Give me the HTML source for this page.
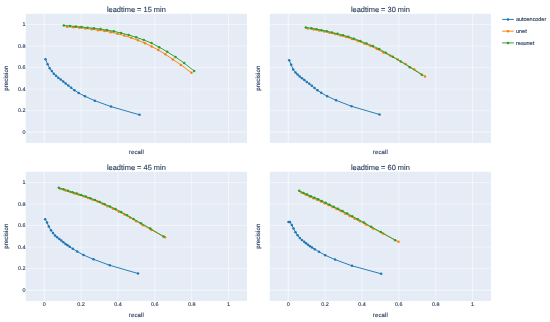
<!DOCTYPE html>
<html><head><meta charset="utf-8"><title>precision-recall</title>
<style>html,body{margin:0;padding:0;background:#fff}svg{display:block}text{text-rendering:geometricPrecision;font-family:"Liberation Sans",sans-serif;fill:#2a3f5f;stroke:#2a3f5f;stroke-width:0.13px;paint-order:stroke fill}</style></head><body>
<svg width="550" height="322" viewBox="0 0 550 322">
<rect width="550" height="322" fill="#fff"/>
<g>
<rect x="25.80" y="13.80" width="221.20" height="129.10" fill="#e5ecf6"/>
<line x1="44.23" y1="13.80" x2="44.23" y2="142.90" stroke="#fff" stroke-width="0.70"/>
<line x1="81.09" y1="13.80" x2="81.09" y2="142.90" stroke="#fff" stroke-width="0.50"/>
<line x1="117.95" y1="13.80" x2="117.95" y2="142.90" stroke="#fff" stroke-width="0.50"/>
<line x1="154.81" y1="13.80" x2="154.81" y2="142.90" stroke="#fff" stroke-width="0.50"/>
<line x1="191.67" y1="13.80" x2="191.67" y2="142.90" stroke="#fff" stroke-width="0.50"/>
<line x1="228.53" y1="13.80" x2="228.53" y2="142.90" stroke="#fff" stroke-width="0.50"/>
<line x1="25.80" y1="132.14" x2="247.00" y2="132.14" stroke="#fff" stroke-width="0.70"/>
<line x1="25.80" y1="110.62" x2="247.00" y2="110.62" stroke="#fff" stroke-width="0.50"/>
<line x1="25.80" y1="89.10" x2="247.00" y2="89.10" stroke="#fff" stroke-width="0.50"/>
<line x1="25.80" y1="67.58" x2="247.00" y2="67.58" stroke="#fff" stroke-width="0.50"/>
<line x1="25.80" y1="46.06" x2="247.00" y2="46.06" stroke="#fff" stroke-width="0.50"/>
<line x1="25.80" y1="24.54" x2="247.00" y2="24.54" stroke="#fff" stroke-width="0.50"/>
<polyline fill="none" stroke="#1f77b4" stroke-width="0.95" stroke-linejoin="round" points="45.5,59.2 47.6,64.2 49.7,68.2 51.8,71.0 53.8,73.7 56.0,75.8 58.2,77.8 60.7,79.6 63.2,81.6 65.7,83.6 68.3,85.6 71.1,87.8 74.5,90.2 78.7,93.0 85.0,96.3 94.8,100.7 111.0,106.6 139.5,114.8"/>
<g fill="#1f77b4"><circle cx="45.5" cy="59.2" r="1.25"/><circle cx="47.6" cy="64.2" r="1.25"/><circle cx="49.7" cy="68.2" r="1.25"/><circle cx="51.8" cy="71.0" r="1.25"/><circle cx="53.8" cy="73.7" r="1.25"/><circle cx="56.0" cy="75.8" r="1.25"/><circle cx="58.2" cy="77.8" r="1.25"/><circle cx="60.7" cy="79.6" r="1.25"/><circle cx="63.2" cy="81.6" r="1.25"/><circle cx="65.7" cy="83.6" r="1.25"/><circle cx="68.3" cy="85.6" r="1.25"/><circle cx="71.1" cy="87.8" r="1.25"/><circle cx="74.5" cy="90.2" r="1.25"/><circle cx="78.7" cy="93.0" r="1.25"/><circle cx="85.0" cy="96.3" r="1.25"/><circle cx="94.8" cy="100.7" r="1.25"/><circle cx="111.0" cy="106.6" r="1.25"/><circle cx="139.5" cy="114.8" r="1.25"/></g>
<polyline fill="none" stroke="#ff7f0e" stroke-width="0.95" stroke-linejoin="round" points="67.0,26.7 73.5,27.2 79.5,27.8 85.5,28.4 91.8,29.2 98.0,30.2 104.5,31.0 110.8,32.2 117.5,33.7 124.3,35.6 131.2,37.8 138.0,40.3 145.0,43.2 151.7,46.5 158.3,50.0 165.3,54.3 172.9,59.4 180.9,64.9 191.5,72.8"/>
<g fill="#ff7f0e"><circle cx="67.0" cy="26.7" r="1.25"/><circle cx="73.5" cy="27.2" r="1.25"/><circle cx="79.5" cy="27.8" r="1.25"/><circle cx="85.5" cy="28.4" r="1.25"/><circle cx="91.8" cy="29.2" r="1.25"/><circle cx="98.0" cy="30.2" r="1.25"/><circle cx="104.5" cy="31.0" r="1.25"/><circle cx="110.8" cy="32.2" r="1.25"/><circle cx="117.5" cy="33.7" r="1.25"/><circle cx="124.3" cy="35.6" r="1.25"/><circle cx="131.2" cy="37.8" r="1.25"/><circle cx="138.0" cy="40.3" r="1.25"/><circle cx="145.0" cy="43.2" r="1.25"/><circle cx="151.7" cy="46.5" r="1.25"/><circle cx="158.3" cy="50.0" r="1.25"/><circle cx="165.3" cy="54.3" r="1.25"/><circle cx="172.9" cy="59.4" r="1.25"/><circle cx="180.9" cy="64.9" r="1.25"/><circle cx="191.5" cy="72.8" r="1.25"/></g>
<polyline fill="none" stroke="#2ca02c" stroke-width="0.95" stroke-linejoin="round" points="63.8,25.5 70.0,26.0 75.8,26.5 81.5,27.0 87.5,27.7 94.0,28.3 100.5,29.1 106.9,30.1 113.8,31.3 121.0,33.0 128.7,35.0 136.2,37.3 143.8,40.0 151.5,43.1 159.2,47.2 167.2,51.8 175.5,57.0 184.2,63.1 194.2,71.0"/>
<g fill="#2ca02c"><circle cx="63.8" cy="25.5" r="1.25"/><circle cx="70.0" cy="26.0" r="1.25"/><circle cx="75.8" cy="26.5" r="1.25"/><circle cx="81.5" cy="27.0" r="1.25"/><circle cx="87.5" cy="27.7" r="1.25"/><circle cx="94.0" cy="28.3" r="1.25"/><circle cx="100.5" cy="29.1" r="1.25"/><circle cx="106.9" cy="30.1" r="1.25"/><circle cx="113.8" cy="31.3" r="1.25"/><circle cx="121.0" cy="33.0" r="1.25"/><circle cx="128.7" cy="35.0" r="1.25"/><circle cx="136.2" cy="37.3" r="1.25"/><circle cx="143.8" cy="40.0" r="1.25"/><circle cx="151.5" cy="43.1" r="1.25"/><circle cx="159.2" cy="47.2" r="1.25"/><circle cx="167.2" cy="51.8" r="1.25"/><circle cx="175.5" cy="57.0" r="1.25"/><circle cx="184.2" cy="63.1" r="1.25"/><circle cx="194.2" cy="71.0" r="1.25"/></g>
<text x="136.40" y="11.70" font-size="7.45" text-anchor="middle">leadtime = 15 min</text>
<text x="25.50" y="133.99" font-size="5.40" text-anchor="end">0</text>
<text x="25.50" y="112.47" font-size="5.40" text-anchor="end">0.2</text>
<text x="25.50" y="90.95" font-size="5.40" text-anchor="end">0.4</text>
<text x="25.50" y="69.43" font-size="5.40" text-anchor="end">0.6</text>
<text x="25.50" y="47.91" font-size="5.40" text-anchor="end">0.8</text>
<text x="25.50" y="26.39" font-size="5.40" text-anchor="end">1</text>
<text x="136.40" y="153.70" font-size="6.00" letter-spacing="0.13" text-anchor="middle">recall</text>
<text transform="translate(7.80,78.15) rotate(-90)" font-size="6.00" letter-spacing="0.13" text-anchor="middle">precision</text>
</g>
<g>
<rect x="269.80" y="13.80" width="221.20" height="129.10" fill="#e5ecf6"/>
<line x1="288.23" y1="13.80" x2="288.23" y2="142.90" stroke="#fff" stroke-width="0.70"/>
<line x1="325.09" y1="13.80" x2="325.09" y2="142.90" stroke="#fff" stroke-width="0.50"/>
<line x1="361.95" y1="13.80" x2="361.95" y2="142.90" stroke="#fff" stroke-width="0.50"/>
<line x1="398.81" y1="13.80" x2="398.81" y2="142.90" stroke="#fff" stroke-width="0.50"/>
<line x1="435.67" y1="13.80" x2="435.67" y2="142.90" stroke="#fff" stroke-width="0.50"/>
<line x1="472.53" y1="13.80" x2="472.53" y2="142.90" stroke="#fff" stroke-width="0.50"/>
<line x1="269.80" y1="132.14" x2="491.00" y2="132.14" stroke="#fff" stroke-width="0.70"/>
<line x1="269.80" y1="110.62" x2="491.00" y2="110.62" stroke="#fff" stroke-width="0.50"/>
<line x1="269.80" y1="89.10" x2="491.00" y2="89.10" stroke="#fff" stroke-width="0.50"/>
<line x1="269.80" y1="67.58" x2="491.00" y2="67.58" stroke="#fff" stroke-width="0.50"/>
<line x1="269.80" y1="46.06" x2="491.00" y2="46.06" stroke="#fff" stroke-width="0.50"/>
<line x1="269.80" y1="24.54" x2="491.00" y2="24.54" stroke="#fff" stroke-width="0.50"/>
<polyline fill="none" stroke="#1f77b4" stroke-width="0.95" stroke-linejoin="round" points="289.2,60.2 291.2,64.8 293.2,69.5 295.5,72.5 297.5,74.5 299.7,76.5 302.0,78.3 304.3,80.0 306.8,81.9 309.3,83.8 311.8,85.8 314.5,88.0 317.5,90.2 321.2,92.8 327.2,96.2 336.1,100.3 351.6,106.3 379.5,114.5"/>
<g fill="#1f77b4"><circle cx="289.2" cy="60.2" r="1.25"/><circle cx="291.2" cy="64.8" r="1.25"/><circle cx="293.2" cy="69.5" r="1.25"/><circle cx="295.5" cy="72.5" r="1.25"/><circle cx="297.5" cy="74.5" r="1.25"/><circle cx="299.7" cy="76.5" r="1.25"/><circle cx="302.0" cy="78.3" r="1.25"/><circle cx="304.3" cy="80.0" r="1.25"/><circle cx="306.8" cy="81.9" r="1.25"/><circle cx="309.3" cy="83.8" r="1.25"/><circle cx="311.8" cy="85.8" r="1.25"/><circle cx="314.5" cy="88.0" r="1.25"/><circle cx="317.5" cy="90.2" r="1.25"/><circle cx="321.2" cy="92.8" r="1.25"/><circle cx="327.2" cy="96.2" r="1.25"/><circle cx="336.1" cy="100.3" r="1.25"/><circle cx="351.6" cy="106.3" r="1.25"/><circle cx="379.5" cy="114.5" r="1.25"/></g>
<polyline fill="none" stroke="#ff7f0e" stroke-width="0.95" stroke-linejoin="round" points="307.7,28.4 313.7,29.4 319.0,30.4 324.2,31.5 329.5,32.7 335.0,34.1 340.5,35.5 346.1,37.1 352.0,39.0 358.0,41.1 364.3,43.6 370.5,46.1 376.8,49.0 383.2,52.4 390.0,55.5 397.8,59.5 405.5,64.0 414.2,69.3 425.0,76.5"/>
<g fill="#ff7f0e"><circle cx="307.7" cy="28.4" r="1.25"/><circle cx="313.7" cy="29.4" r="1.25"/><circle cx="319.0" cy="30.4" r="1.25"/><circle cx="324.2" cy="31.5" r="1.25"/><circle cx="329.5" cy="32.7" r="1.25"/><circle cx="335.0" cy="34.1" r="1.25"/><circle cx="340.5" cy="35.5" r="1.25"/><circle cx="346.1" cy="37.1" r="1.25"/><circle cx="352.0" cy="39.0" r="1.25"/><circle cx="358.0" cy="41.1" r="1.25"/><circle cx="364.3" cy="43.6" r="1.25"/><circle cx="370.5" cy="46.1" r="1.25"/><circle cx="376.8" cy="49.0" r="1.25"/><circle cx="383.2" cy="52.4" r="1.25"/><circle cx="390.0" cy="55.5" r="1.25"/><circle cx="397.8" cy="59.5" r="1.25"/><circle cx="405.5" cy="64.0" r="1.25"/><circle cx="414.2" cy="69.3" r="1.25"/><circle cx="425.0" cy="76.5" r="1.25"/></g>
<polyline fill="none" stroke="#2ca02c" stroke-width="0.95" stroke-linejoin="round" points="305.8,27.5 311.5,28.3 316.5,29.2 321.5,30.2 326.8,31.2 332.0,32.5 337.5,33.8 343.0,35.2 348.4,36.8 354.0,38.7 360.3,41.0 366.5,43.5 372.8,46.0 379.2,49.0 385.8,52.7 392.7,56.8 400.8,61.5 409.8,67.2 421.8,74.8"/>
<g fill="#2ca02c"><circle cx="305.8" cy="27.5" r="1.25"/><circle cx="311.5" cy="28.3" r="1.25"/><circle cx="316.5" cy="29.2" r="1.25"/><circle cx="321.5" cy="30.2" r="1.25"/><circle cx="326.8" cy="31.2" r="1.25"/><circle cx="332.0" cy="32.5" r="1.25"/><circle cx="337.5" cy="33.8" r="1.25"/><circle cx="343.0" cy="35.2" r="1.25"/><circle cx="348.4" cy="36.8" r="1.25"/><circle cx="354.0" cy="38.7" r="1.25"/><circle cx="360.3" cy="41.0" r="1.25"/><circle cx="366.5" cy="43.5" r="1.25"/><circle cx="372.8" cy="46.0" r="1.25"/><circle cx="379.2" cy="49.0" r="1.25"/><circle cx="385.8" cy="52.7" r="1.25"/><circle cx="392.7" cy="56.8" r="1.25"/><circle cx="400.8" cy="61.5" r="1.25"/><circle cx="409.8" cy="67.2" r="1.25"/><circle cx="421.8" cy="74.8" r="1.25"/></g>
<text x="380.40" y="11.70" font-size="7.45" text-anchor="middle">leadtime = 30 min</text>
<text x="380.40" y="153.70" font-size="6.00" letter-spacing="0.13" text-anchor="middle">recall</text>
<text transform="translate(259.90,78.15) rotate(-90)" font-size="6.00" letter-spacing="0.13" text-anchor="middle">precision</text>
</g>
<g>
<rect x="25.80" y="171.80" width="221.20" height="129.10" fill="#e5ecf6"/>
<line x1="44.23" y1="171.80" x2="44.23" y2="300.90" stroke="#fff" stroke-width="0.70"/>
<line x1="81.09" y1="171.80" x2="81.09" y2="300.90" stroke="#fff" stroke-width="0.50"/>
<line x1="117.95" y1="171.80" x2="117.95" y2="300.90" stroke="#fff" stroke-width="0.50"/>
<line x1="154.81" y1="171.80" x2="154.81" y2="300.90" stroke="#fff" stroke-width="0.50"/>
<line x1="191.67" y1="171.80" x2="191.67" y2="300.90" stroke="#fff" stroke-width="0.50"/>
<line x1="228.53" y1="171.80" x2="228.53" y2="300.90" stroke="#fff" stroke-width="0.50"/>
<line x1="25.80" y1="290.14" x2="247.00" y2="290.14" stroke="#fff" stroke-width="0.70"/>
<line x1="25.80" y1="268.62" x2="247.00" y2="268.62" stroke="#fff" stroke-width="0.50"/>
<line x1="25.80" y1="247.10" x2="247.00" y2="247.10" stroke="#fff" stroke-width="0.50"/>
<line x1="25.80" y1="225.58" x2="247.00" y2="225.58" stroke="#fff" stroke-width="0.50"/>
<line x1="25.80" y1="204.06" x2="247.00" y2="204.06" stroke="#fff" stroke-width="0.50"/>
<line x1="25.80" y1="182.54" x2="247.00" y2="182.54" stroke="#fff" stroke-width="0.50"/>
<polyline fill="none" stroke="#1f77b4" stroke-width="0.95" stroke-linejoin="round" points="45.2,219.2 47.0,222.5 48.8,226.5 51.0,230.3 53.0,233.1 55.0,235.5 57.1,237.3 59.3,239.0 61.3,240.6 63.4,242.3 65.5,244.0 67.5,245.3 69.7,246.8 72.8,248.8 77.2,251.5 83.5,255.0 93.5,259.3 109.8,265.3 138.0,273.5"/>
<g fill="#1f77b4"><circle cx="45.2" cy="219.2" r="1.25"/><circle cx="47.0" cy="222.5" r="1.25"/><circle cx="48.8" cy="226.5" r="1.25"/><circle cx="51.0" cy="230.3" r="1.25"/><circle cx="53.0" cy="233.1" r="1.25"/><circle cx="55.0" cy="235.5" r="1.25"/><circle cx="57.1" cy="237.3" r="1.25"/><circle cx="59.3" cy="239.0" r="1.25"/><circle cx="61.3" cy="240.6" r="1.25"/><circle cx="63.4" cy="242.3" r="1.25"/><circle cx="65.5" cy="244.0" r="1.25"/><circle cx="67.5" cy="245.3" r="1.25"/><circle cx="69.7" cy="246.8" r="1.25"/><circle cx="72.8" cy="248.8" r="1.25"/><circle cx="77.2" cy="251.5" r="1.25"/><circle cx="83.5" cy="255.0" r="1.25"/><circle cx="93.5" cy="259.3" r="1.25"/><circle cx="109.8" cy="265.3" r="1.25"/><circle cx="138.0" cy="273.5" r="1.25"/></g>
<polyline fill="none" stroke="#ff7f0e" stroke-width="0.95" stroke-linejoin="round" points="60.5,189.0 65.5,190.5 70.0,192.0 74.5,193.4 79.0,194.8 83.5,196.3 88.0,198.0 92.7,199.7 97.5,201.6 102.5,203.8 107.5,206.2 113.0,208.8 118.8,211.8 124.5,214.5 130.0,217.5 136.2,221.2 143.0,225.2 151.5,230.0 165.0,237.2"/>
<g fill="#ff7f0e"><circle cx="60.5" cy="189.0" r="1.25"/><circle cx="65.5" cy="190.5" r="1.25"/><circle cx="70.0" cy="192.0" r="1.25"/><circle cx="74.5" cy="193.4" r="1.25"/><circle cx="79.0" cy="194.8" r="1.25"/><circle cx="83.5" cy="196.3" r="1.25"/><circle cx="88.0" cy="198.0" r="1.25"/><circle cx="92.7" cy="199.7" r="1.25"/><circle cx="97.5" cy="201.6" r="1.25"/><circle cx="102.5" cy="203.8" r="1.25"/><circle cx="107.5" cy="206.2" r="1.25"/><circle cx="113.0" cy="208.8" r="1.25"/><circle cx="118.8" cy="211.8" r="1.25"/><circle cx="124.5" cy="214.5" r="1.25"/><circle cx="130.0" cy="217.5" r="1.25"/><circle cx="136.2" cy="221.2" r="1.25"/><circle cx="143.0" cy="225.2" r="1.25"/><circle cx="151.5" cy="230.0" r="1.25"/><circle cx="165.0" cy="237.2" r="1.25"/></g>
<polyline fill="none" stroke="#2ca02c" stroke-width="0.95" stroke-linejoin="round" points="58.8,187.8 63.5,189.2 68.0,190.7 72.5,192.2 76.8,193.5 81.2,195.0 85.7,196.5 90.3,198.2 95.0,200.0 99.8,202.0 104.7,204.2 110.0,206.5 115.5,209.0 121.2,212.0 127.1,215.3 133.5,219.0 141.0,223.2 150.3,228.5 163.5,236.5"/>
<g fill="#2ca02c"><circle cx="58.8" cy="187.8" r="1.25"/><circle cx="63.5" cy="189.2" r="1.25"/><circle cx="68.0" cy="190.7" r="1.25"/><circle cx="72.5" cy="192.2" r="1.25"/><circle cx="76.8" cy="193.5" r="1.25"/><circle cx="81.2" cy="195.0" r="1.25"/><circle cx="85.7" cy="196.5" r="1.25"/><circle cx="90.3" cy="198.2" r="1.25"/><circle cx="95.0" cy="200.0" r="1.25"/><circle cx="99.8" cy="202.0" r="1.25"/><circle cx="104.7" cy="204.2" r="1.25"/><circle cx="110.0" cy="206.5" r="1.25"/><circle cx="115.5" cy="209.0" r="1.25"/><circle cx="121.2" cy="212.0" r="1.25"/><circle cx="127.1" cy="215.3" r="1.25"/><circle cx="133.5" cy="219.0" r="1.25"/><circle cx="141.0" cy="223.2" r="1.25"/><circle cx="150.3" cy="228.5" r="1.25"/><circle cx="163.5" cy="236.5" r="1.25"/></g>
<text x="136.40" y="169.70" font-size="7.45" text-anchor="middle">leadtime = 45 min</text>
<text x="25.50" y="291.99" font-size="5.40" text-anchor="end">0</text>
<text x="25.50" y="270.47" font-size="5.40" text-anchor="end">0.2</text>
<text x="25.50" y="248.95" font-size="5.40" text-anchor="end">0.4</text>
<text x="25.50" y="227.43" font-size="5.40" text-anchor="end">0.6</text>
<text x="25.50" y="205.91" font-size="5.40" text-anchor="end">0.8</text>
<text x="25.50" y="184.39" font-size="5.40" text-anchor="end">1</text>
<text x="44.23" y="305.70" font-size="5.40" text-anchor="middle">0</text>
<text x="81.09" y="305.70" font-size="5.40" text-anchor="middle">0.2</text>
<text x="117.95" y="305.70" font-size="5.40" text-anchor="middle">0.4</text>
<text x="154.81" y="305.70" font-size="5.40" text-anchor="middle">0.6</text>
<text x="191.67" y="305.70" font-size="5.40" text-anchor="middle">0.8</text>
<text x="228.53" y="305.70" font-size="5.40" text-anchor="middle">1</text>
<text x="136.40" y="317.30" font-size="6.00" letter-spacing="0.13" text-anchor="middle">recall</text>
<text transform="translate(7.80,236.15) rotate(-90)" font-size="6.00" letter-spacing="0.13" text-anchor="middle">precision</text>
</g>
<g>
<rect x="269.80" y="171.80" width="221.20" height="129.10" fill="#e5ecf6"/>
<line x1="288.23" y1="171.80" x2="288.23" y2="300.90" stroke="#fff" stroke-width="0.70"/>
<line x1="325.09" y1="171.80" x2="325.09" y2="300.90" stroke="#fff" stroke-width="0.50"/>
<line x1="361.95" y1="171.80" x2="361.95" y2="300.90" stroke="#fff" stroke-width="0.50"/>
<line x1="398.81" y1="171.80" x2="398.81" y2="300.90" stroke="#fff" stroke-width="0.50"/>
<line x1="435.67" y1="171.80" x2="435.67" y2="300.90" stroke="#fff" stroke-width="0.50"/>
<line x1="472.53" y1="171.80" x2="472.53" y2="300.90" stroke="#fff" stroke-width="0.50"/>
<line x1="269.80" y1="290.14" x2="491.00" y2="290.14" stroke="#fff" stroke-width="0.70"/>
<line x1="269.80" y1="268.62" x2="491.00" y2="268.62" stroke="#fff" stroke-width="0.50"/>
<line x1="269.80" y1="247.10" x2="491.00" y2="247.10" stroke="#fff" stroke-width="0.50"/>
<line x1="269.80" y1="225.58" x2="491.00" y2="225.58" stroke="#fff" stroke-width="0.50"/>
<line x1="269.80" y1="204.06" x2="491.00" y2="204.06" stroke="#fff" stroke-width="0.50"/>
<line x1="269.80" y1="182.54" x2="491.00" y2="182.54" stroke="#fff" stroke-width="0.50"/>
<polyline fill="none" stroke="#1f77b4" stroke-width="0.95" stroke-linejoin="round" points="288.5,222.0 290.0,222.0 291.8,225.0 293.5,228.5 295.5,232.2 297.6,235.3 299.8,238.0 301.9,240.0 304.1,241.7 306.0,243.3 308.0,244.8 310.0,246.2 312.0,247.5 314.8,249.2 319.0,251.8 325.2,255.2 335.0,259.6 352.0,265.8 381.2,273.8"/>
<g fill="#1f77b4"><circle cx="288.5" cy="222.0" r="1.25"/><circle cx="290.0" cy="222.0" r="1.25"/><circle cx="291.8" cy="225.0" r="1.25"/><circle cx="293.5" cy="228.5" r="1.25"/><circle cx="295.5" cy="232.2" r="1.25"/><circle cx="297.6" cy="235.3" r="1.25"/><circle cx="299.8" cy="238.0" r="1.25"/><circle cx="301.9" cy="240.0" r="1.25"/><circle cx="304.1" cy="241.7" r="1.25"/><circle cx="306.0" cy="243.3" r="1.25"/><circle cx="308.0" cy="244.8" r="1.25"/><circle cx="310.0" cy="246.2" r="1.25"/><circle cx="312.0" cy="247.5" r="1.25"/><circle cx="314.8" cy="249.2" r="1.25"/><circle cx="319.0" cy="251.8" r="1.25"/><circle cx="325.2" cy="255.2" r="1.25"/><circle cx="335.0" cy="259.6" r="1.25"/><circle cx="352.0" cy="265.8" r="1.25"/><circle cx="381.2" cy="273.8" r="1.25"/></g>
<polyline fill="none" stroke="#ff7f0e" stroke-width="0.95" stroke-linejoin="round" points="301.3,192.6 305.5,194.6 309.5,196.5 313.3,198.2 317.1,199.8 320.9,201.5 324.7,203.3 328.5,205.1 332.5,207.0 336.5,209.0 340.7,211.1 345.0,213.4 349.7,216.0 354.7,218.7 360.0,221.3 365.8,224.5 373.0,228.5 383.0,233.5 398.5,241.8"/>
<g fill="#ff7f0e"><circle cx="301.3" cy="192.6" r="1.25"/><circle cx="305.5" cy="194.6" r="1.25"/><circle cx="309.5" cy="196.5" r="1.25"/><circle cx="313.3" cy="198.2" r="1.25"/><circle cx="317.1" cy="199.8" r="1.25"/><circle cx="320.9" cy="201.5" r="1.25"/><circle cx="324.7" cy="203.3" r="1.25"/><circle cx="328.5" cy="205.1" r="1.25"/><circle cx="332.5" cy="207.0" r="1.25"/><circle cx="336.5" cy="209.0" r="1.25"/><circle cx="340.7" cy="211.1" r="1.25"/><circle cx="345.0" cy="213.4" r="1.25"/><circle cx="349.7" cy="216.0" r="1.25"/><circle cx="354.7" cy="218.7" r="1.25"/><circle cx="360.0" cy="221.3" r="1.25"/><circle cx="365.8" cy="224.5" r="1.25"/><circle cx="373.0" cy="228.5" r="1.25"/><circle cx="383.0" cy="233.5" r="1.25"/><circle cx="398.5" cy="241.8" r="1.25"/></g>
<polyline fill="none" stroke="#2ca02c" stroke-width="0.95" stroke-linejoin="round" points="299.2,190.8 303.5,193.0 307.2,194.5 310.8,196.2 314.5,197.7 318.2,199.3 321.8,201.0 325.7,202.8 329.7,204.7 333.8,206.8 338.0,208.8 342.5,211.0 347.2,213.5 352.2,216.2 357.8,219.2 364.0,222.6 371.2,226.8 380.8,232.0 395.2,240.2"/>
<g fill="#2ca02c"><circle cx="299.2" cy="190.8" r="1.25"/><circle cx="303.5" cy="193.0" r="1.25"/><circle cx="307.2" cy="194.5" r="1.25"/><circle cx="310.8" cy="196.2" r="1.25"/><circle cx="314.5" cy="197.7" r="1.25"/><circle cx="318.2" cy="199.3" r="1.25"/><circle cx="321.8" cy="201.0" r="1.25"/><circle cx="325.7" cy="202.8" r="1.25"/><circle cx="329.7" cy="204.7" r="1.25"/><circle cx="333.8" cy="206.8" r="1.25"/><circle cx="338.0" cy="208.8" r="1.25"/><circle cx="342.5" cy="211.0" r="1.25"/><circle cx="347.2" cy="213.5" r="1.25"/><circle cx="352.2" cy="216.2" r="1.25"/><circle cx="357.8" cy="219.2" r="1.25"/><circle cx="364.0" cy="222.6" r="1.25"/><circle cx="371.2" cy="226.8" r="1.25"/><circle cx="380.8" cy="232.0" r="1.25"/><circle cx="395.2" cy="240.2" r="1.25"/></g>
<text x="380.40" y="169.70" font-size="7.45" text-anchor="middle">leadtime = 60 min</text>
<text x="288.23" y="305.70" font-size="5.40" text-anchor="middle">0</text>
<text x="325.09" y="305.70" font-size="5.40" text-anchor="middle">0.2</text>
<text x="361.95" y="305.70" font-size="5.40" text-anchor="middle">0.4</text>
<text x="398.81" y="305.70" font-size="5.40" text-anchor="middle">0.6</text>
<text x="435.67" y="305.70" font-size="5.40" text-anchor="middle">0.8</text>
<text x="472.53" y="305.70" font-size="5.40" text-anchor="middle">1</text>
<text x="380.40" y="317.30" font-size="6.00" letter-spacing="0.13" text-anchor="middle">recall</text>
<text transform="translate(259.90,236.15) rotate(-90)" font-size="6.00" letter-spacing="0.13" text-anchor="middle">precision</text>
</g>
<line x1="502.1" y1="19.40" x2="513.9" y2="19.40" stroke="#1f77b4" stroke-width="0.95"/>
<circle cx="508" cy="19.40" r="1.25" fill="#1f77b4"/>
<text x="516.1" y="21.40" font-size="5.55" letter-spacing="-0.07">autoencoder</text>
<line x1="502.1" y1="31.15" x2="513.9" y2="31.15" stroke="#ff7f0e" stroke-width="0.95"/>
<circle cx="508" cy="31.15" r="1.25" fill="#ff7f0e"/>
<text x="516.1" y="33.15" font-size="5.55" letter-spacing="-0.07">unet</text>
<line x1="502.1" y1="42.90" x2="513.9" y2="42.90" stroke="#2ca02c" stroke-width="0.95"/>
<circle cx="508" cy="42.90" r="1.25" fill="#2ca02c"/>
<text x="516.1" y="44.90" font-size="5.55" letter-spacing="-0.07">resunet</text>
</svg></body></html>
